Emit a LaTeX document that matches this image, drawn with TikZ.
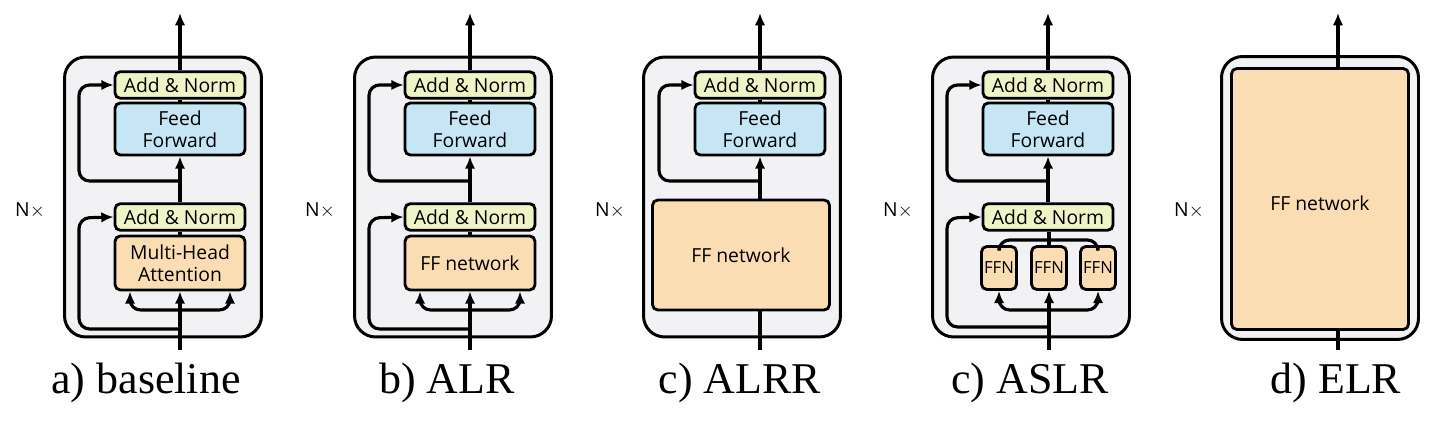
\documentclass[tikz,border=0pt]{standalone}
\usepackage{fontspec}
\setmainfont{Liberation Serif}
\newfontfamily\boxfont{Open Sans}
\usepackage{tikz}
\usetikzlibrary{arrows.meta}
\usepackage{xcolor}
\definecolor{layerbg}{HTML}{F2F2F4}
\definecolor{normfill}{HTML}{EFF4C6}
\definecolor{fwdfill}{HTML}{C6E5F5}
\definecolor{netfill}{HTML}{FBDDB4}

\begin{document}
\begin{tikzpicture}[x=0.02cm,y=-0.02cm,
	layer/.style={draw,line width=1.7pt,rounded corners=12pt,fill=layerbg,minimum width=3.94cm,minimum height=5.6cm},
	norm/.style={draw,line width=1.6pt,rounded corners=3pt,fill=normfill,minimum width=2.6cm,minimum height=0.5cm,font=\boxfont\fontsize{11}{12.5}\selectfont},
	fwd/.style={draw,line width=1.6pt,rounded corners=3pt,fill=fwdfill,minimum width=2.6cm,minimum height=1.04cm,align=center,font=\boxfont\fontsize{11}{12.5}\selectfont},
	net/.style={draw,line width=1.6pt,rounded corners=3pt,fill=netfill,align=center,font=\boxfont\fontsize{11}{12.5}\selectfont},
	ffn/.style={net,minimum width=0.7cm,minimum height=0.86cm,inner sep=0pt,font=\boxfont\fontsize{9.5}{10}\selectfont},
	caption/.style={font=\fontsize{25}{28}\selectfont},
	nx/.style={font=\boxfont\fontsize{11}{12.5}\selectfont},
	flow/.style={line width=1.8pt},
	arr/.style={flow,-{Latex[length=7pt,width=6pt]}},
	res/.style={arr,rounded corners=6pt}]
\useasboundingbox (0,0) rectangle (1440,421);
% a) baseline
\node(aL) at (163,197)[layer]{};
\node(aN1) at (180,85)[norm]{Add \& Norm};
\node(aF) at (180,129)[fwd]{Feed\\Forward};
\node(aN2) at (180,217)[norm]{Add \& Norm};
\node(aA) at (180,263)[net,minimum width=2.6cm,minimum height=1.08cm]{Multi-Head\\Attention};
\node(aX) at (30,210)[nx]{N$\times$};
\node(aC) at (146,383)[caption]{a) baseline};
\coordinate(aIn) at (180,350);
\coordinate(aOut) at (180,13);
\draw[arr] (aIn) -- (aA);
\draw[flow] (aA) -- (aN2);
\draw[arr] (aN2) -- (aF);
\draw[flow] (aF) -- (aN1);
\draw[arr] (aN1) -- (aOut);
\draw[res] (180,329) -- (79,329) -- (79,218) -- (aN2.west);
\draw[res] (180,181) -- (79,181) -- (79,85) -- (aN1.west);
\draw[res] (180,310) -- (130,310) -- (aA.south -| 130,0);
\draw[res] (180,310) -- (230,310) -- (aA.south -| 230,0);
% b) ALR
\node(bL) at (453,197)[layer]{};
\node(bN1) at (470,85)[norm]{Add \& Norm};
\node(bF) at (470,129)[fwd]{Feed\\Forward};
\node(bN2) at (470,217)[norm]{Add \& Norm};
\node(bA) at (470,263)[net,minimum width=2.6cm,minimum height=1.08cm]{FF network};
\node(bX) at (320,210)[nx]{N$\times$};
\node(bC) at (447,383)[caption]{b) ALR};
\coordinate(bIn) at (470,350);
\coordinate(bOut) at (470,13);
\draw[arr] (bIn) -- (bA);
\draw[flow] (bA) -- (bN2);
\draw[arr] (bN2) -- (bF);
\draw[flow] (bF) -- (bN1);
\draw[arr] (bN1) -- (bOut);
\draw[res] (470,329) -- (369,329) -- (369,218) -- (bN2.west);
\draw[res] (470,181) -- (369,181) -- (369,85) -- (bN1.west);
\draw[res] (470,310) -- (420,310) -- (bA.south -| 420,0);
\draw[res] (470,310) -- (520,310) -- (bA.south -| 520,0);
% c) ALRR
\node(cL) at (742,197)[layer]{};
\node(cN1) at (760,85)[norm]{Add \& Norm};
\node(cF) at (760,129)[fwd]{Feed\\Forward};
\node(cA) at (741,255)[net,minimum width=3.54cm,minimum height=2.2cm]{FF network};
\node(cX) at (610,210)[nx]{N$\times$};
\node(cC) at (740,383)[caption]{c) ALRR};
\coordinate(cIn) at (760,350);
\coordinate(cOut) at (760,13);
\draw[flow] (cIn) -- (cA.south -| cIn);
\draw[arr] (cA.north -| cIn) -- (cF);
\draw[flow] (cF) -- (cN1);
\draw[arr] (cN1) -- (cOut);
\draw[res] (760,181) -- (659,181) -- (659,85) -- (cN1.west);
% c) ASLR
\node(dL) at (1031,197)[layer]{};
\node(dN1) at (1048,85)[norm]{Add \& Norm};
\node(dF) at (1048,129)[fwd]{Feed\\Forward};
\node(dN2) at (1048,217)[norm]{Add \& Norm};
\node(dA1) at (999,268)[ffn]{FFN};
\node(dA2) at (1049,268)[ffn]{FFN};
\node(dA3) at (1098,268)[ffn]{FFN};
\node(dX) at (898,210)[nx]{N$\times$};
\node(dC) at (1030,383)[caption]{c) ASLR};
\coordinate(dIn) at (1049,350);
\coordinate(dOut) at (1048,13);
\draw[arr] (dIn) -- (dA2);
\draw[flow] (dA2) -- (dN2.south -| dA2);
\draw[flow,rounded corners=6pt] (dA1) -- (999,240) -- (1098,240) -- (dA3);
\draw[arr] (dN2) -- (dF);
\draw[flow] (dF) -- (dN1);
\draw[arr] (dN1) -- (dOut);
\draw[res] (1049,327) -- (947,327) -- (947,218) -- (dN2.west);
\draw[res] (1048,181) -- (947,181) -- (947,85) -- (dN1.west);
\draw[res] (1049,310) -- (999,310) -- (dA1);
\draw[res] (1049,310) -- (1098,310) -- (dA3);
% d) ELR
\node(eL) at (1320,198)[layer,minimum height=5.66cm]{};
\node(eA) at (1320,199)[net,minimum width=3.54cm,minimum height=5.22cm]{};
\node(eT) at (1320,203)[font=\boxfont\fontsize{11}{12.5}\selectfont]{FF network};
\node(eX) at (1189,210)[nx]{N$\times$};
\node(eC) at (1336,383)[caption]{d) ELR};
\coordinate(eIn) at (1338,350);
\coordinate(eOut) at (1338,13);
\draw[flow] (eIn) -- (eA.south -| eIn);
\draw[arr] (eA.north -| eIn) -- (eOut);
\end{tikzpicture}
\end{document}
